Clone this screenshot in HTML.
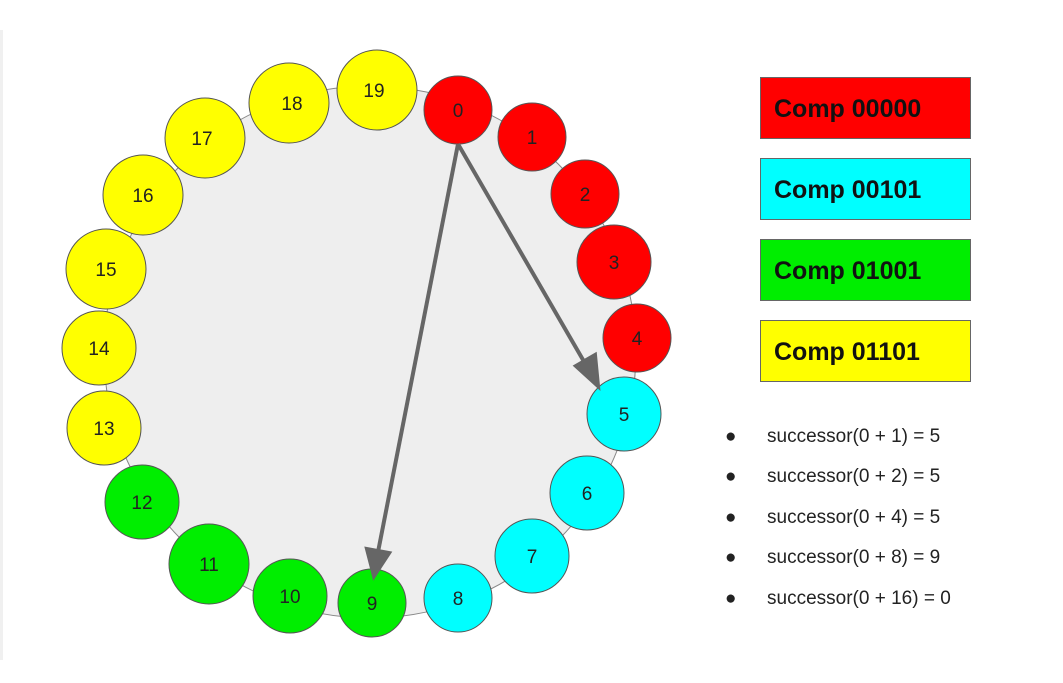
<!DOCTYPE html>
<html><head><meta charset="utf-8"><style>
html,body{margin:0;padding:0;background:#fff;}
body{width:1063px;height:683px;overflow:hidden;position:relative;font-family:"Liberation Sans",sans-serif;}
.box{position:absolute;left:760px;width:211px;height:62px;border:1px solid #666;box-sizing:border-box;font-weight:bold;font-size:25px;line-height:62px;padding-left:13px;color:#111;}
.b{position:absolute;left:725px;font-size:19px;color:#222;}
.b span{position:absolute;left:42px;white-space:nowrap;}
</style></head><body>
<div style="position:absolute;left:0;top:30px;width:3px;height:630px;background:#f0f0f0"></div>
<svg width="1063" height="683" style="position:absolute;left:0;top:0">
<circle cx="370" cy="352" r="266" fill="#eeeeee" stroke="#888" stroke-width="1"/>
<g stroke="#555" stroke-width="1" font-size="19" text-anchor="middle" font-family="Liberation Sans, sans-serif">
<circle cx="458" cy="110" r="34" fill="#ff0000"/><text x="458" y="117" stroke="none" fill="#222">0</text>
<circle cx="532" cy="137" r="34" fill="#ff0000"/><text x="532" y="144" stroke="none" fill="#222">1</text>
<circle cx="585" cy="194" r="34" fill="#ff0000"/><text x="585" y="201" stroke="none" fill="#222">2</text>
<circle cx="614" cy="262" r="37" fill="#ff0000"/><text x="614" y="269" stroke="none" fill="#222">3</text>
<circle cx="637" cy="338" r="34" fill="#ff0000"/><text x="637" y="345" stroke="none" fill="#222">4</text>
<circle cx="624" cy="414" r="37" fill="#00ffff"/><text x="624" y="421" stroke="none" fill="#222">5</text>
<circle cx="587" cy="493" r="37" fill="#00ffff"/><text x="587" y="500" stroke="none" fill="#222">6</text>
<circle cx="532" cy="556" r="37" fill="#00ffff"/><text x="532" y="563" stroke="none" fill="#222">7</text>
<circle cx="458" cy="598" r="34" fill="#00ffff"/><text x="458" y="605" stroke="none" fill="#222">8</text>
<circle cx="372" cy="603" r="34" fill="#00ee00"/><text x="372" y="610" stroke="none" fill="#222">9</text>
<circle cx="290" cy="596" r="37" fill="#00ee00"/><text x="290" y="603" stroke="none" fill="#222">10</text>
<circle cx="209" cy="564" r="40" fill="#00ee00"/><text x="209" y="571" stroke="none" fill="#222">11</text>
<circle cx="142" cy="502" r="37" fill="#00ee00"/><text x="142" y="509" stroke="none" fill="#222">12</text>
<circle cx="104" cy="428" r="37" fill="#ffff00"/><text x="104" y="435" stroke="none" fill="#222">13</text>
<circle cx="99" cy="348" r="37" fill="#ffff00"/><text x="99" y="355" stroke="none" fill="#222">14</text>
<circle cx="106" cy="269" r="40" fill="#ffff00"/><text x="106" y="276" stroke="none" fill="#222">15</text>
<circle cx="143" cy="195" r="40" fill="#ffff00"/><text x="143" y="202" stroke="none" fill="#222">16</text>
<circle cx="205" cy="138" r="40" fill="#ffff00"/><text x="202" y="145" stroke="none" fill="#222">17</text>
<circle cx="289" cy="103" r="40" fill="#ffff00"/><text x="292" y="110" stroke="none" fill="#222">18</text>
<circle cx="377" cy="90" r="40" fill="#ffff00"/><text x="374" y="97" stroke="none" fill="#222">19</text>
</g>
<g stroke="#666" stroke-width="4" fill="#666">
<line x1="458" y1="144" x2="586" y2="365"/>
<polygon points="598,386 576,366 595,355"/>
<line x1="458" y1="144" x2="378" y2="552"/>
<polygon points="374,576 367,549 389,553"/>
</g>
</svg>
<div class="box" style="top:77px;background:#ff0000">Comp 00000</div>
<div class="box" style="top:158px;background:#00ffff">Comp 00101</div>
<div class="box" style="top:239px;background:#00ee00">Comp 01001</div>
<div class="box" style="top:320px;background:#ffff00">Comp 01101</div>
<div class="b" style="top:426px">●<span>successor(0 + 1) = 5</span></div>
<div class="b" style="top:466px">●<span>successor(0 + 2) = 5</span></div>
<div class="b" style="top:507px">●<span>successor(0 + 4) = 5</span></div>
<div class="b" style="top:547px">●<span>successor(0 + 8) = 9</span></div>
<div class="b" style="top:588px">●<span>successor(0 + 16) = 0</span></div>
</body></html>
